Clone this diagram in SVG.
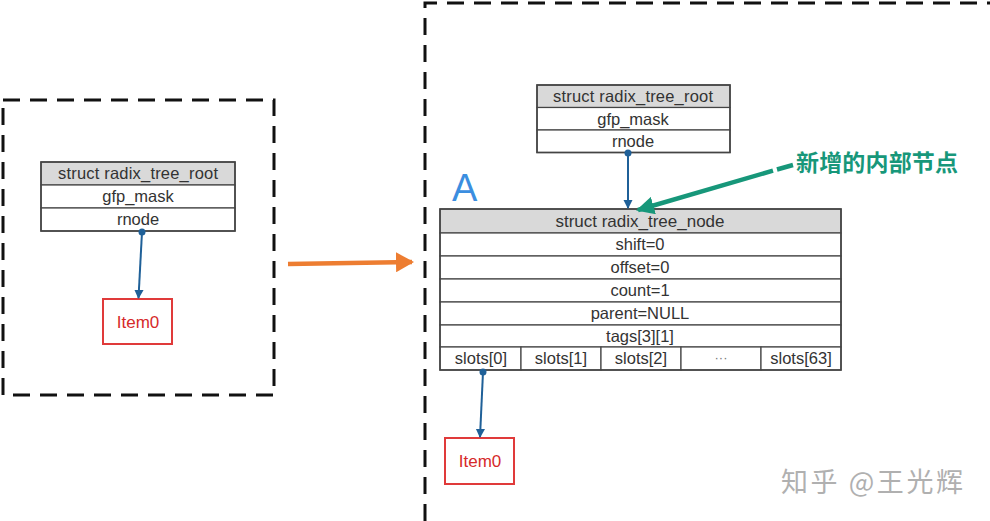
<svg xmlns="http://www.w3.org/2000/svg" width="990" height="521" viewBox="0 0 990 521">
<defs>
<style>
.frame{fill:none;stroke:#111;stroke-width:3;stroke-dasharray:17 10}
.box{fill:none;stroke:#444;stroke-width:1.6}
.hdr{fill:#d9d9d9;stroke:#444;stroke-width:1.2}
.row{fill:#fff;stroke:#444;stroke-width:1.2}
.t{font-family:"Liberation Sans","Noto Sans",sans-serif;font-size:16.5px;fill:#333;text-anchor:middle}
.item{fill:#fff;stroke:#e03a3a;stroke-width:2}
.it{font-family:"Liberation Sans","Noto Sans",sans-serif;font-size:17px;fill:#d62a2a;text-anchor:middle}
.blue{stroke:#1f6098;stroke-width:2;fill:none}
</style>
<marker id="ab" markerWidth="10" markerHeight="10" refX="8" refY="5" orient="auto" markerUnits="userSpaceOnUse">
<path d="M0,0 L10,5 L0,10 z" fill="#1f6098" transform="translate(-1,0)"/>
</marker>
<marker id="ao" markerWidth="20" markerHeight="20" refX="16" refY="10" orient="auto" markerUnits="userSpaceOnUse">
<path d="M0,0 L18,10 L0,20 z" fill="#ed7d31"/>
</marker>
<marker id="ag" markerWidth="20" markerHeight="18" refX="16" refY="9" orient="auto" markerUnits="userSpaceOnUse">
<path d="M0,0 L18,9 L0,18 z" fill="#17977a"/>
</marker>
</defs>
<rect width="990" height="521" fill="#fff"/>

<g id="left-frame">
<rect class="frame" x="3" y="100" width="271" height="295"/>
</g>
<g id="right-frame">
<path class="frame" d="M425,521 V3 H990"/>
</g>

<g id="left-root">
<rect class="hdr" x="41" y="162" width="194" height="23"/>
<rect class="row" x="41" y="185" width="194" height="23"/>
<rect class="row" x="41" y="208" width="194" height="23"/>
<rect class="box" x="41" y="162" width="194" height="69"/>
<text class="t" x="138" y="179" textLength="160">struct radix_tree_root</text>
<text class="t" x="138" y="202">gfp_mask</text>
<text class="t" x="138" y="225">rnode</text>
</g>

<g id="left-item0">
<rect class="item" x="103" y="299" width="69" height="45"/>
<text class="it" x="138" y="328">Item0</text>
</g>

<g id="right-root">
<rect class="hdr" x="537" y="85" width="193" height="22.5"/>
<rect class="row" x="537" y="107.5" width="193" height="22.5"/>
<rect class="row" x="537" y="130" width="193" height="22.5"/>
<rect class="box" x="537" y="85" width="193" height="67.5"/>
<text class="t" x="633" y="102" textLength="160">struct radix_tree_root</text>
<text class="t" x="633" y="124.5">gfp_mask</text>
<text class="t" x="633" y="147">rnode</text>
</g>

<g id="label-A">
<text x="452" y="201" font-family="Liberation Sans,Noto Sans,sans-serif" font-size="38" fill="#3b8ee0">A</text>
</g>

<g id="node">
<rect class="hdr" x="440" y="209" width="401" height="24"/>
<rect class="row" x="440" y="233" width="401" height="23"/>
<rect class="row" x="440" y="256" width="401" height="23"/>
<rect class="row" x="440" y="279" width="401" height="23"/>
<rect class="row" x="440" y="302" width="401" height="23"/>
<rect class="row" x="440" y="325" width="401" height="22"/>
<rect class="row" x="440" y="347" width="81" height="23"/>
<rect class="row" x="521" y="347" width="80" height="23"/>
<rect class="row" x="601" y="347" width="80" height="23"/>
<rect class="row" x="681" y="347" width="80" height="23"/>
<rect class="row" x="761" y="347" width="80" height="23"/>
<rect class="box" x="440" y="209" width="401" height="161"/>
<text class="t" x="640" y="227" style="font-size:17px" textLength="169">struct radix_tree_node</text>
<text class="t" x="640" y="250">shift=0</text>
<text class="t" x="640" y="273">offset=0</text>
<text class="t" x="640" y="296">count=1</text>
<text class="t" x="640" y="319">parent=NULL</text>
<text class="t" x="640" y="342">tags[3][1]</text>
<text class="t" x="481" y="364">slots[0]</text>
<text class="t" x="561" y="364">slots[1]</text>
<text class="t" x="641" y="364">slots[2]</text>
<text class="t" x="721" y="362" style="fill:#777;font-size:13px">···</text>
<text class="t" x="801" y="364">slots[63]</text>
</g>

<g id="right-item0">
<rect class="item" x="445" y="438" width="69" height="46"/>
<text class="it" x="480" y="467">Item0</text>
</g>

<g id="label-new">
<text x="796" y="171" font-family="Noto Sans CJK SC,sans-serif" font-size="23" font-weight="bold" fill="#17977a" textLength="162">新增的内部节点</text>
</g>

<g id="watermark">
<text x="781" y="492" font-family="Noto Sans CJK SC,sans-serif" font-size="27" fill="#b0b0b0" textLength="182">知乎 @王光辉</text>
</g>

<g id="connectors">
<circle cx="142" cy="232" r="3.5" fill="#1f6098"/>
<line class="blue" x1="142" y1="232" x2="138.5" y2="298" marker-end="url(#ab)"/>
<circle cx="628" cy="153" r="3.5" fill="#1f6098"/>
<line class="blue" x1="628" y1="153" x2="628" y2="208" marker-end="url(#ab)"/>
<circle cx="483" cy="372" r="3.5" fill="#1f6098"/>
<line class="blue" x1="483" y1="372" x2="480" y2="437" marker-end="url(#ab)"/>
<line x1="288" y1="264" x2="412" y2="262" stroke="#ed7d31" stroke-width="4.5" marker-end="url(#ao)"/>
<line x1="793" y1="165" x2="777" y2="169.5" stroke="#17977a" stroke-width="4.5"/>
<line x1="773" y1="170.6" x2="638" y2="210" stroke="#17977a" stroke-width="4.5" marker-end="url(#ag)"/>
</g>
</svg>
